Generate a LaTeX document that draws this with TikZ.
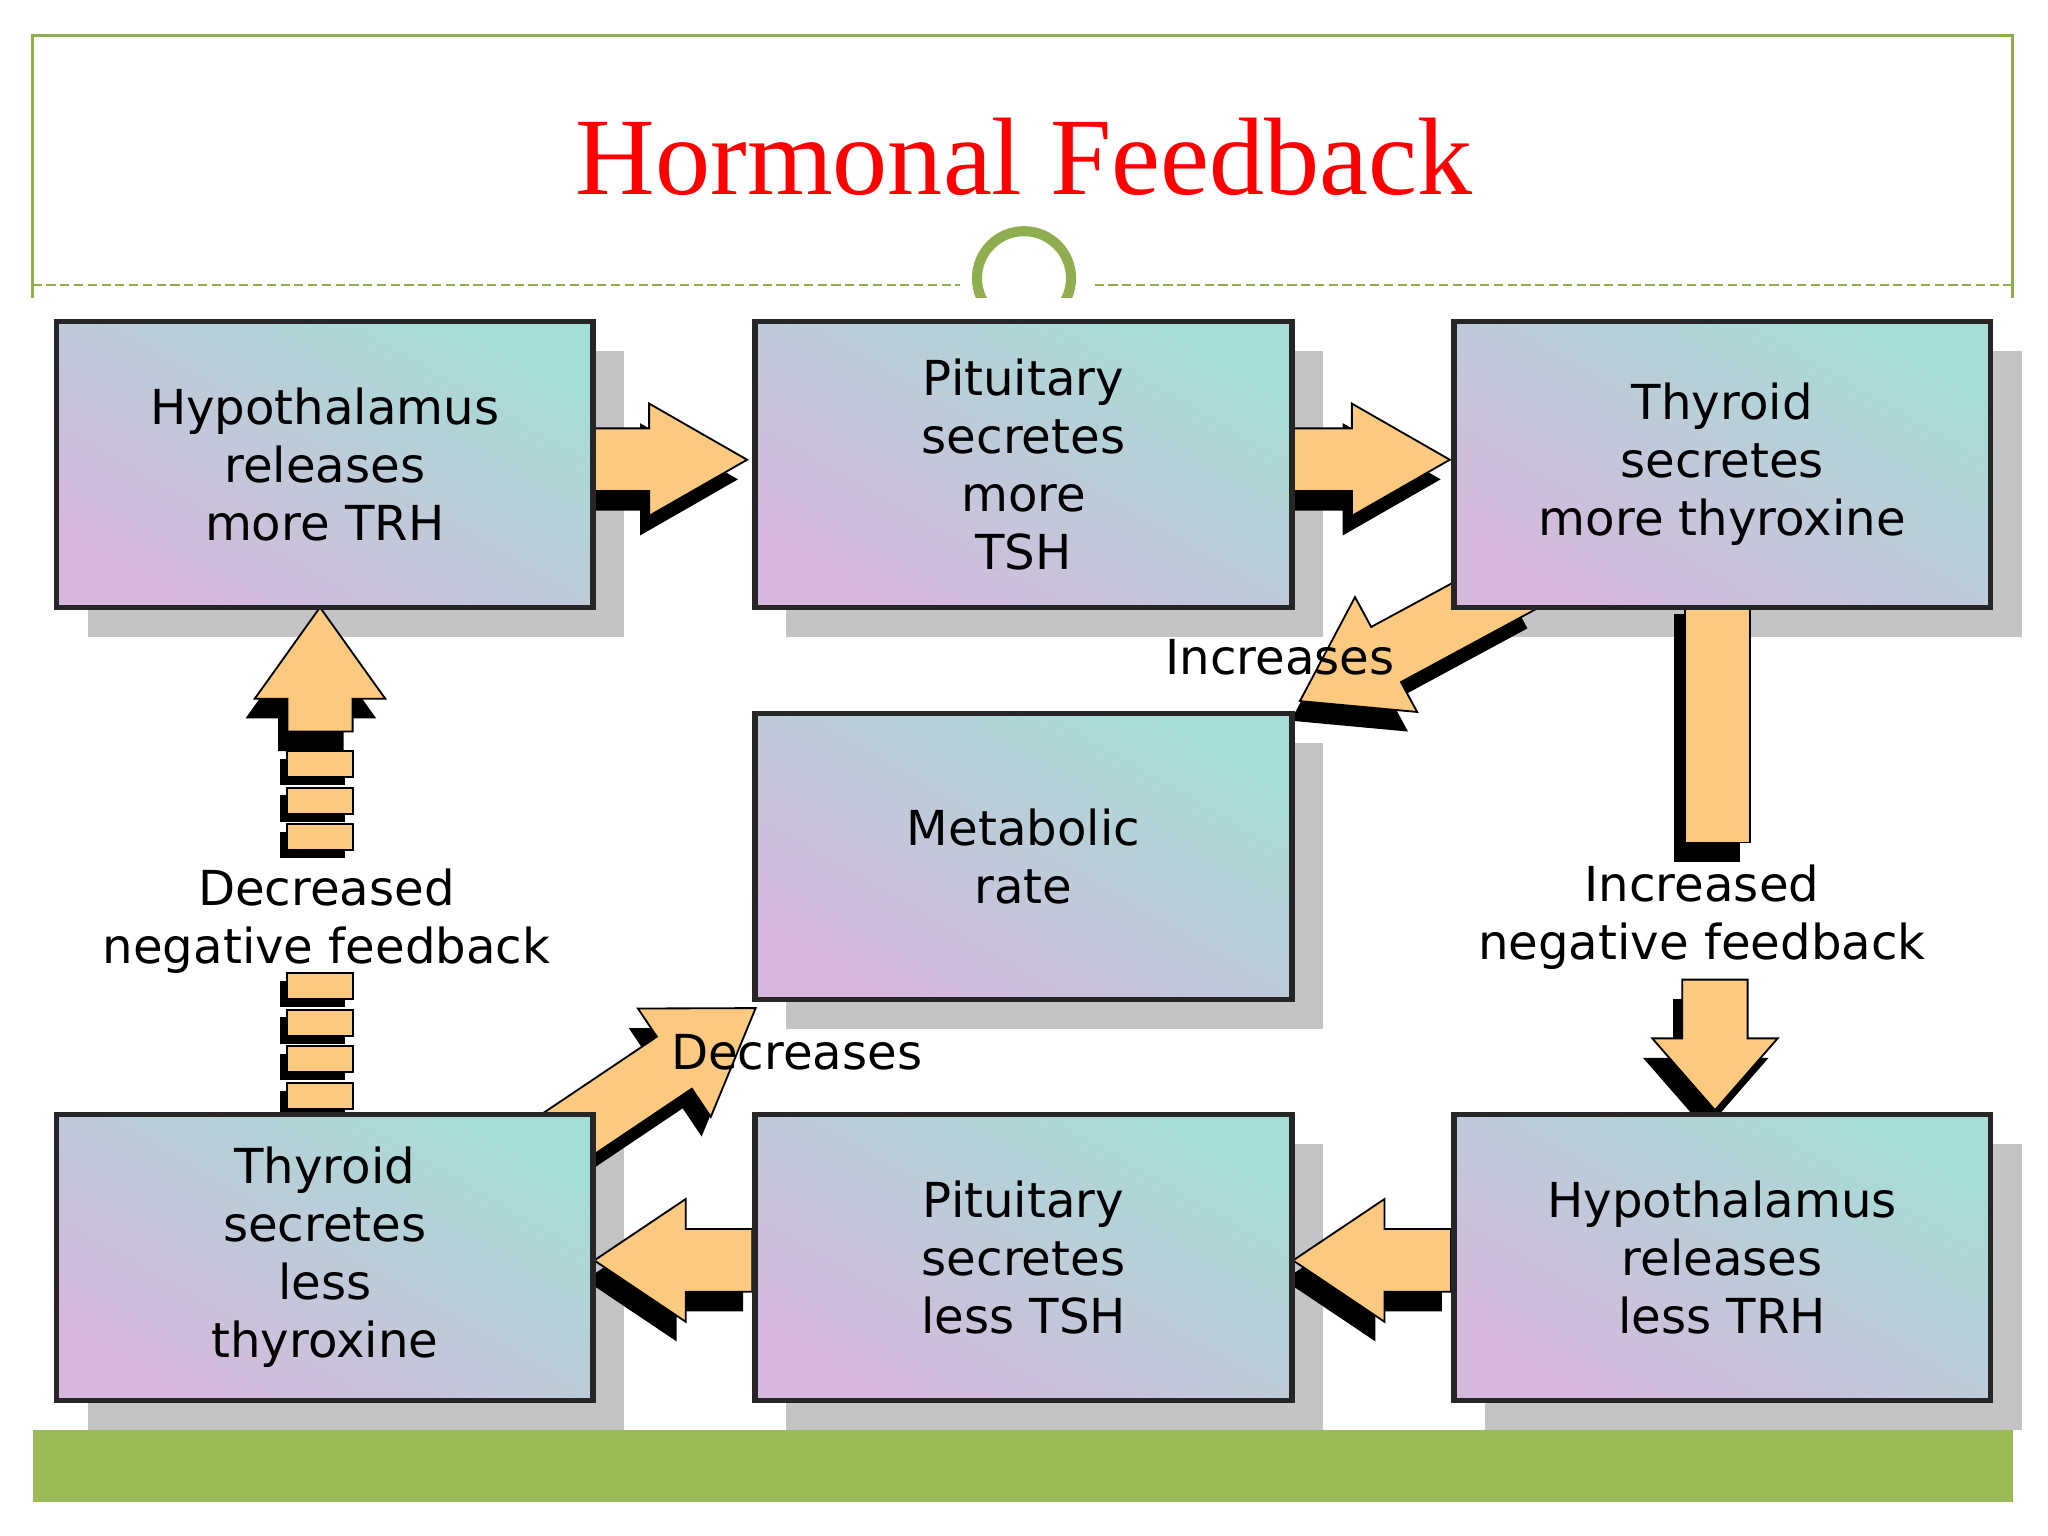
\documentclass[tikz,border=0pt]{standalone}
\usepackage{fontspec}
\setmainfont{DejaVu Sans}
\newfontfamily\titlefont{Liberation Serif}
\definecolor{frame}{HTML}{8FAE4F}
\definecolor{barg}{HTML}{9BBB59}
\definecolor{arr}{HTML}{FBC97F}
\definecolor{tealc}{HTML}{A6DDD6}
\definecolor{pinkc}{HTML}{D6B8DC}
\definecolor{shad}{HTML}{C4C4C6}
\newcommand\barrow[7]{% x y angle length headlen headhalf shafthalf
\begin{scope}[shift={(#1-0.07,#2-0.15)},rotate=#3]
\fill[black] (0,-#7)--(#4-#5,-#7)--(#4-#5,-#6)--(#4,0)--(#4-#5,#6)--(#4-#5,#7)--(0,#7)--cycle;
\end{scope}
\begin{scope}[shift={(#1,#2)},rotate=#3]
\filldraw[fill=arr,draw=black,line width=0.4pt] (0,-#7)--(#4-#5,-#7)--(#4-#5,-#6)--(#4,0)--(#4-#5,#6)--(#4-#5,#7)--(0,#7)--cycle;
\end{scope}}
\newcommand\seg[2]{% x center, y top (tikz), height 0.2
\fill[black] (#1-0.31,#2-0.06) rectangle (#1+0.19,#2-0.26);
\filldraw[fill=arr,draw=black,line width=0.4pt] (#1-0.25,#2) rectangle (#1+0.25,#2-0.2);}
\tikzset{
 box/.style={draw=black!85,line width=1.2pt,minimum width=4.11cm,minimum height=2.19cm,
   left color=tealc,right color=pinkc,shading angle=-30,align=center,
   font=\fontsize{10.5}{12.6}\selectfont,inner sep=0pt},
 lab/.style={font=\fontsize{10.5}{12.6}\selectfont,align=center}
}
\begin{document}
\begin{tikzpicture}
\useasboundingbox (0,0) rectangle (15.68,-11.76);
\fill[white] (0,0) rectangle (15.68,-11.76);
% frame
\draw[frame,line width=0.6pt] (0.25,-2.28)--(0.25,-0.27)--(15.41,-0.27)--(15.41,-2.28);
\draw[frame,line width=0.5pt,dash pattern=on 2pt off 1pt] (0.25,-2.18)--(7.35,-2.18) (8.38,-2.18)--(15.41,-2.18);
\begin{scope}
\clip (7.3,-1.6) rectangle (8.4,-2.28);
\draw[frame,line width=2.2pt] (7.84,-2.13) circle (0.36);
\end{scope}
\node[font=\titlefont\fontsize{24}{28}\selectfont,text=red] (title) at (7.84,-1.2) {Hormonal Feedback};
\fill[barg] (0.25,-10.95) rectangle (15.41,-11.5);
% shadows
\foreach \x/\y in {0.41/-2.44,5.76/-2.44,11.11/-2.44,5.76/-5.44,0.41/-8.51,5.76/-8.51,11.11/-8.51}
  \fill[shad] (\x+0.26,\y-0.25) rectangle (\x+4.37,\y-2.44);
% arrows
\barrow{4.52}{-3.52}{0}{1.2}{0.75}{0.43}{0.24}
\barrow{9.87}{-3.52}{0}{1.23}{0.75}{0.43}{0.24}
\barrow{5.76}{-9.65}{180}{1.21}{0.7}{0.47}{0.24}
\barrow{11.11}{-9.65}{180}{1.21}{0.7}{0.47}{0.24}
\barrow{11.65}{-4.45}{208.4}{1.93}{0.75}{0.5}{0.24}
\barrow{4.25}{-8.75}{33.9}{1.85}{0.75}{0.5}{0.24}
\barrow{2.45}{-5.6}{90}{0.95}{0.7}{0.5}{0.25}
\foreach \y in {-5.75,-6.03,-6.31,-7.45,-7.73,-8.01,-8.29} \seg{2.45}{\y}
\fill[black] (12.82,-4.7) rectangle (13.32,-6.6);
\filldraw[fill=arr,draw=black,line width=0.4pt] (12.9,-4.6) rectangle (13.4,-6.45);
\barrow{13.13}{-7.5}{-90}{1.0}{0.55}{0.48}{0.25}
% boxes
\node[box,anchor=north west] (b1) at (0.41,-2.44) {Hypothalamus\\releases\\more TRH};
\node[box,anchor=north west] (b2) at (5.76,-2.44) {Pituitary\\secretes\\more\\TSH};
\node[box,anchor=north west] (b3) at (11.11,-2.44) {Thyroid\\secretes\\more thyroxine};
\node[box,anchor=north west] (b4) at (5.76,-5.44) {Metabolic\\rate};
\node[box,anchor=north west] (b5) at (0.41,-8.51) {Thyroid\\secretes\\less\\thyroxine};
\node[box,anchor=north west] (b6) at (5.76,-8.51) {Pituitary\\secretes\\less TSH};
\node[box,anchor=north west] (b7) at (11.11,-8.51) {Hypothalamus\\releases\\less TRH};
% labels
\node[lab] (inc) at (9.8,-5.03) {Increases};
\node[lab] (dec) at (6.1,-8.06) {Decreases};
\node[lab] (dnf) at (2.5,-7.05) {Decreased\\negative feedback};
\node[lab] (inf) at (13.03,-7.02) {Increased\\negative feedback};
\end{tikzpicture}
\end{document}
